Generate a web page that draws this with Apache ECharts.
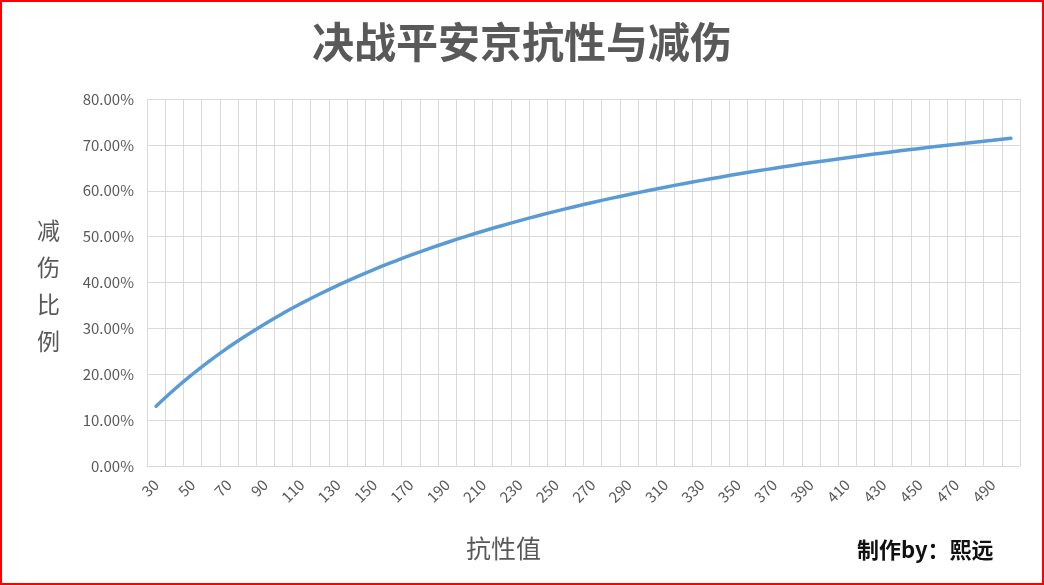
<!DOCTYPE html>
<html>
<head>
<meta charset="utf-8">
<script src="https://cdn.jsdelivr.net/npm/echarts@6/dist/echarts.min.js"></script>
<style>
  html, body { margin: 0; padding: 0; background: #fff; }
  #frame {
    width: 1044px;
    height: 585px;
    box-sizing: border-box;
    border: 2px solid #ff0000;
    position: relative;
  }
  #chart { position: absolute; left: -2px; top: -2px; width: 1044px; height: 585px; }
</style>
</head>
<body>
<div id="frame"><div id="chart"></div></div>
<script>
// 抗性值 30 ~ 500
const categories = [
  '30', '40', '50', '60', '70', '80', '90', '100', '110', '120',
  '130', '140', '150', '160', '170', '180', '190', '200', '210', '220',
  '230', '240', '250', '260', '270', '280', '290', '300', '310', '320',
  '330', '340', '350', '360', '370', '380', '390', '400', '410', '420',
  '430', '440', '450', '460', '470', '480', '490', '500'
]

// 减伤比例
const reduction = [
  0.1304, 0.1667, 0.2000, 0.2308, 0.2593, 0.2857, 0.3103, 0.3333, 0.3548, 0.3750,
  0.3939, 0.4118, 0.4286, 0.4444, 0.4595, 0.4737, 0.4872, 0.5000, 0.5122, 0.5238,
  0.5349, 0.5455, 0.5556, 0.5652, 0.5745, 0.5833, 0.5918, 0.6000, 0.6078, 0.6154,
  0.6226, 0.6296, 0.6364, 0.6429, 0.6491, 0.6552, 0.6610, 0.6667, 0.6721, 0.6774,
  0.6825, 0.6875, 0.6923, 0.6970, 0.7015, 0.7059, 0.7101, 0.7143
]

const yTicks = [0, 0.1, 0.2, 0.3, 0.4, 0.5, 0.6, 0.7, 0.8]

const font = '"Noto Sans CJK SC", "Noto Sans", sans-serif'
const textColor = '#595959'
const gridColor = '#d9d9d9'

const chart = echarts.init(document.getElementById('chart'))

const option = {
  backgroundColor: 'transparent',
  animation: false,
  title: {
    text: '决战平安京抗性与减伤',
    left: 'center',
    top: 16,
    textStyle: {
      fontFamily: font,
      fontSize: 42,
      fontWeight: 'bold',
      color: textColor
    }
  },
  grid: {
    left: 147,
    right: 24,
    top: 99,
    bottom: 119
  },
  xAxis: {
    type: 'category',
    data: categories,
    boundaryGap: true,
    axisLine: { lineStyle: { color: gridColor, width: 1 } },
    axisTick: { show: false },
    axisLabel: {
      interval: 1,
      rotate: 45,
      margin: 16,
      fontFamily: font,
      fontSize: 15,
      color: textColor
    },
    splitLine: {
      show: true,
      interval: 0,
      lineStyle: { color: gridColor, width: 1 }
    }
  },
  yAxis: {
    type: 'value',
    min: yTicks[0],
    max: yTicks[yTicks.length - 1],
    interval: 0.1,
    axisLine: { show: false },
    axisTick: { show: false },
    axisLabel: {
      margin: 13,
      fontFamily: font,
      fontSize: 15,
      color: textColor,
      formatter: v => (v * 100).toFixed(2) + '%'
    },
    splitLine: {
      lineStyle: { color: gridColor, width: 1 }
    }
  },
  series: [{
    type: 'line',
    data: reduction,
    smooth: true,
    showSymbol: false,
    lineStyle: { color: '#5b9bd5', width: 3.5, cap: 'round' },
    itemStyle: { color: '#5b9bd5' }
  }],
  graphic: [
    {
      type: 'text',
      left: 37,
      top: 212,
      style: {
        text: '减\n伤\n比\n例',
        fontFamily: font,
        fontSize: 23,
        lineHeight: 37,
        fill: textColor
      }
    },
    {
      type: 'text',
      left: 466,
      top: 536,
      style: {
        text: '抗性值',
        fontFamily: font,
        fontSize: 25,
        fill: textColor
      }
    },
    {
      type: 'text',
      left: 857,
      top: 539,
      style: {
        text: '制作by：熙远',
        fontFamily: font,
        fontSize: 22,
        fontWeight: 'bold',
        fill: '#111'
      }
    }
  ]
}

chart.setOption(option)
</script>
</body>
</html>
